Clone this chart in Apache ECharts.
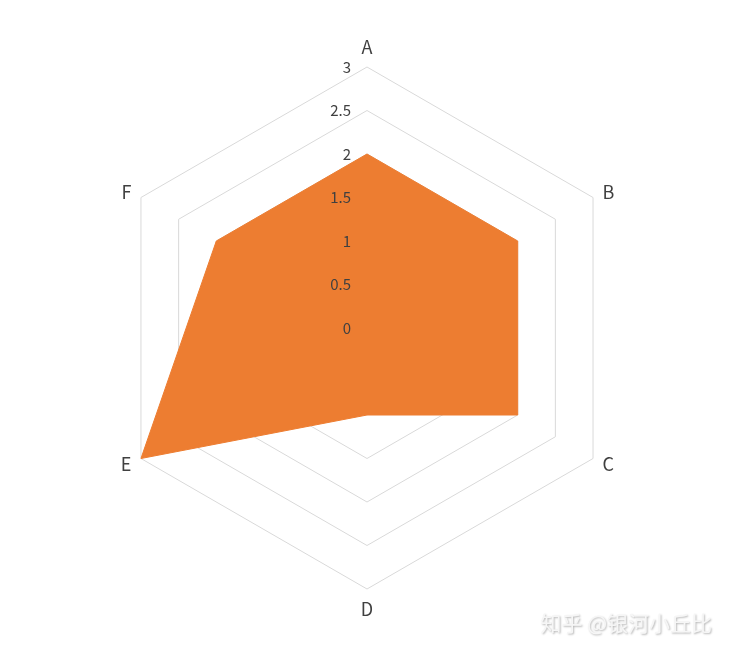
<!DOCTYPE html>
<html style="height: 100%">
<head>
    <meta charset="utf-8">
    <script src="https://cdn.jsdelivr.net/npm/echarts@6/dist/echarts.min.js"></script>
    <title>Radar</title>
</head>
<body style="height: 100%; margin: 0; background: #fff">
<div id="container" style="width: 730px; height: 652px"></div>
<script type="text/javascript">

    let categories = ['A', 'B', 'C', 'D', 'E', 'F']
    let values = [2, 2, 2, 1, 3, 2]
    let axisMax = 3

    // echarts lays indicators out counter-clockwise, the chart goes clockwise
    let order = [0, 5, 4, 3, 2, 1]
    let font = '"Noto Sans CJK SC", "Noto Sans", sans-serif'
    let indicators = order.map(i => ({name: categories[i], min: 0, max: axisMax}))
    // second radar only carries the tick labels so they sit above the fill
    let labelIndicators = order.map((i, k) => ({
        name: categories[i], min: 0, max: axisMax,
        axisLabel: {show: k === 0}
    }))

    let dom = document.getElementById('container')
    let chart = echarts.init(dom)
    chart.setOption({
        animation: false,
        radar: [
            {
                center: [367, 328],
                radius: 261,
                startAngle: 90,
                shape: 'polygon',
                splitNumber: 6,
                indicator: indicators,
                axisName: {color: '#404040', fontSize: 18, fontFamily: font},
                nameGap: 11,
                axisLine: {show: false},
                axisTick: {show: false},
                axisLabel: {show: false},
                splitArea: {show: false},
                splitLine: {lineStyle: {color: '#d9d9d9', width: 1}}
            },
            {
                center: [367, 328],
                radius: 261,
                startAngle: 90,
                shape: 'polygon',
                splitNumber: 6,
                z: 5,
                indicator: labelIndicators,
                axisName: {show: false},
                axisLine: {show: false},
                axisTick: {show: false},
                axisLabel: {show: false, color: '#404040', fontSize: 15, fontFamily: font, margin: 16},
                splitArea: {show: false},
                splitLine: {show: false}
            }
        ],
        graphic: [{
            type: 'text',
            right: 18,
            bottom: 18,
            style: {
                text: '知乎 @银河小丘比',
                fontSize: 21,
                fontFamily: font,
                fill: '#f6f6f6',
                textShadowColor: 'rgba(0,0,0,0.3)',
                textShadowBlur: 2,
                textShadowOffsetX: 1,
                textShadowOffsetY: 1
            }
        }],
        series: [{
            type: 'radar',
            radarIndex: 0,
            symbol: 'none',
            data: [{
                value: order.map(i => values[i]),
                lineStyle: {color: '#ED7D31', width: 1},
                areaStyle: {color: '#ED7D31', opacity: 1}
            }]
        }]
    })

</script>
</body>
</html>
